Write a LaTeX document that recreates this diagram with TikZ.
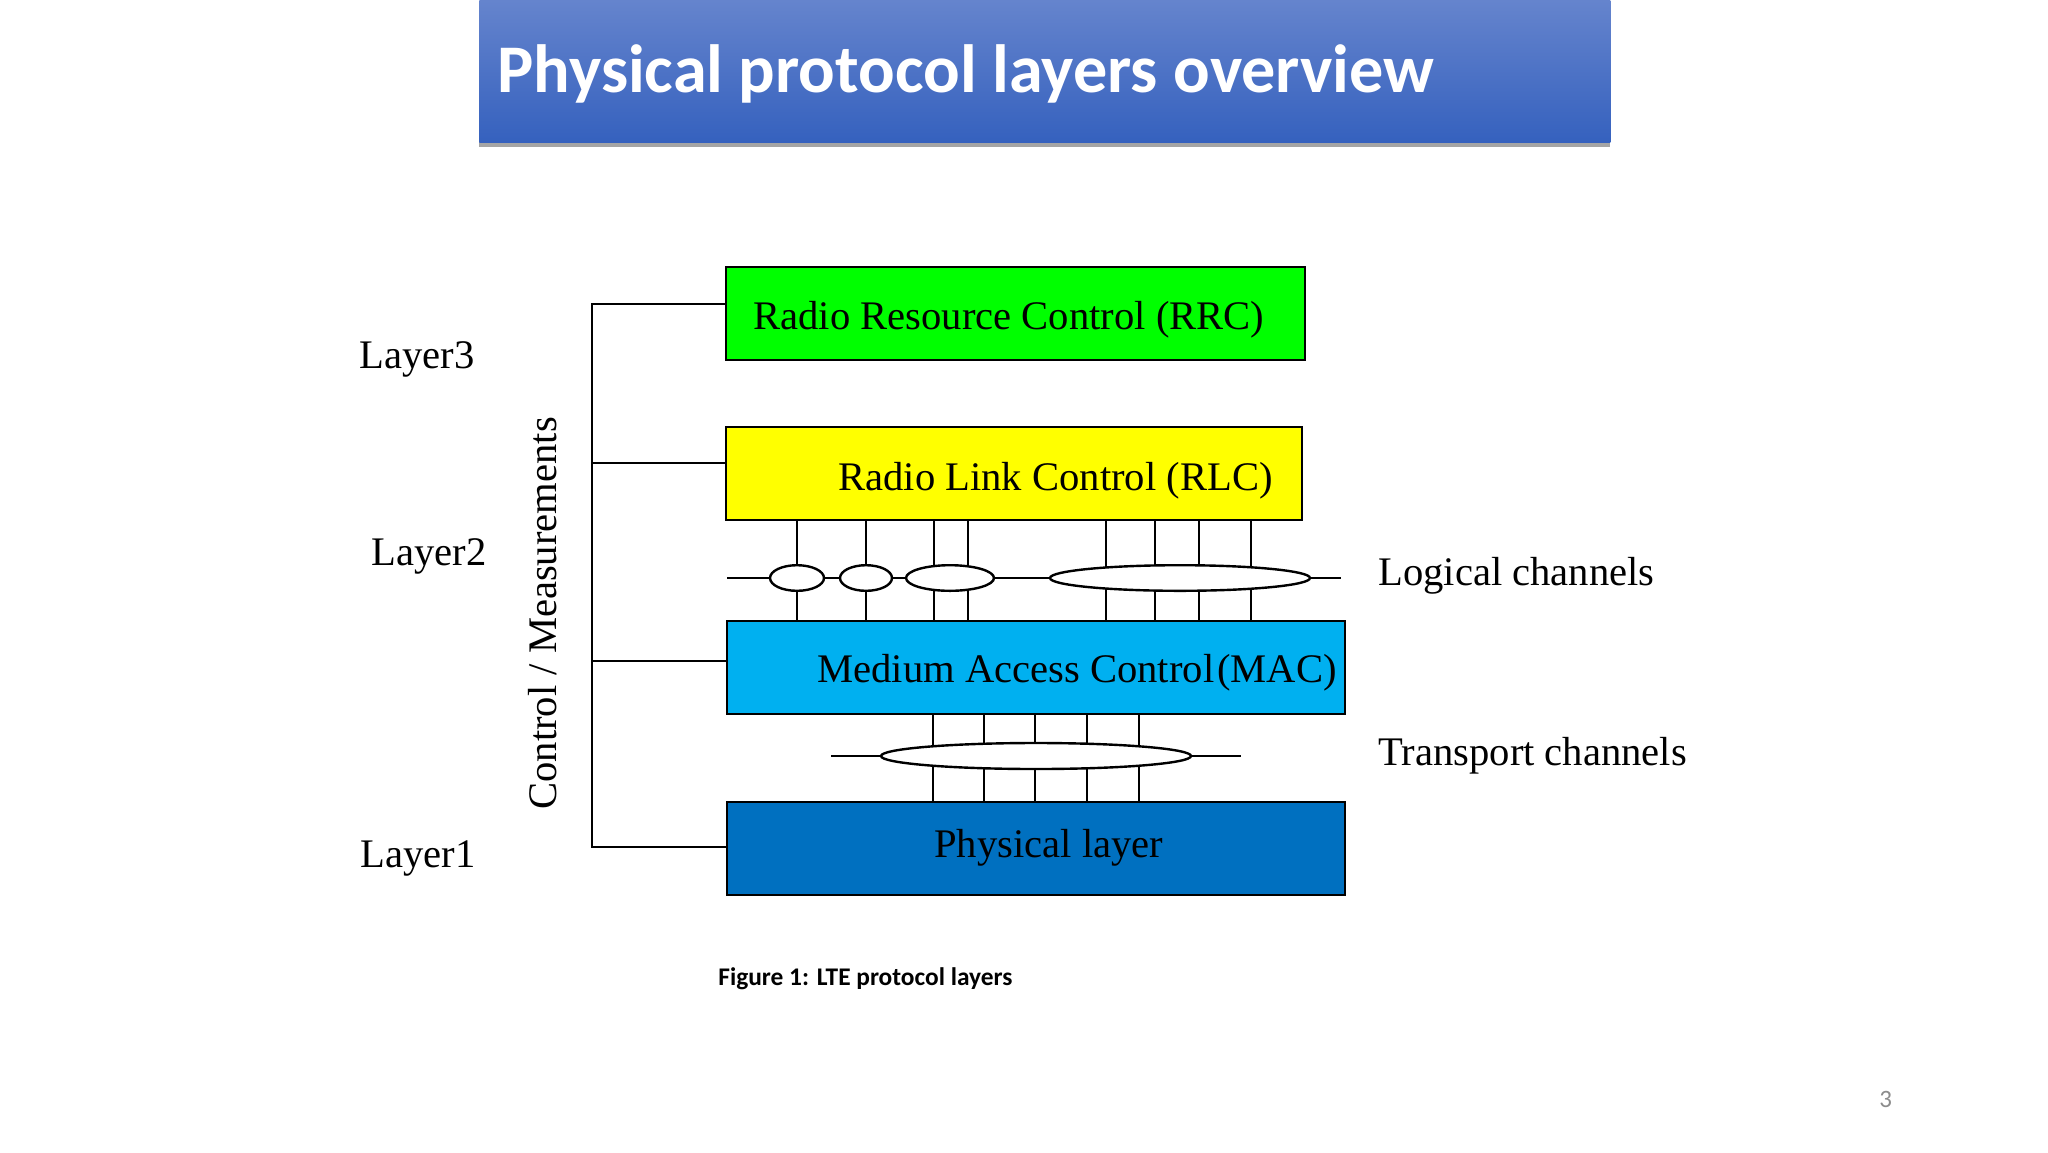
\documentclass[tikz,border=0pt]{standalone}
\usepackage{fontspec}
\setmainfont{Liberation Serif}
\newfontfamily\calibri{Carlito}
\usetikzlibrary{shadows,shapes.geometric}
\definecolor{rrcgreen}{RGB}{0,255,0}
\definecolor{rlcyellow}{RGB}{255,255,0}
\definecolor{macblue}{RGB}{0,176,240}
\definecolor{phyblue}{RGB}{0,112,192}
\definecolor{bantop}{RGB}{101,132,205}
\definecolor{banbot}{RGB}{53,97,190}
\definecolor{pgnum}{RGB}{140,140,140}
\begin{document}
\begin{tikzpicture}[x=0.5pt,y=-0.5pt,
  blk/.style={draw=black, line width=1.4pt, rectangle, inner sep=0pt, minimum height=46.5pt},
  lbl/.style={font=\fontsize{20.3}{24}\selectfont, inner sep=0pt, anchor=base west, text=black},
  chan/.style={draw=black, line width=1.2pt, fill=white, ellipse, inner sep=0pt, minimum height=12.8pt},
  wire/.style={draw=black, line width=1.2pt}]
\useasboundingbox (0,0) rectangle (2048,1152);
\fill[white] (0,0) rectangle (2048,1152);

% title banner
\node[name=banner, anchor=north west, inner sep=0pt, minimum width=565.5pt, minimum height=71pt,
  top color=bantop, bottom color=banbot, draw=none,
  drop shadow={shadow xshift=0pt, shadow yshift=-2.5pt, opacity=0.5, fill=black!70}] at (479,0) {};
\node[name=title, anchor=base west, inner sep=0pt, text=white, font=\calibri\bfseries\fontsize{34.1}{40}\selectfont] at (497,92) {Physical protocol layers overview};

% boxes
\node[blk, name=rrc, fill=rrcgreen, minimum width=289.5pt] at (1015.5,313.5) {};
\node[blk, name=rlc, fill=rlcyellow, minimum width=288pt] at (1014,473.5) {};
\node[blk, name=mac, fill=macblue, minimum width=309pt] at (1036,667.5) {};
\node[blk, name=phy, fill=phyblue, minimum width=309pt] at (1036,848.5) {};

\node[lbl, name=rrctext] at (753,329) {Radio Resource Control (RRC)};
\node[lbl, name=rlctext] at (838,490) {Radio Link Control (RLC)};
\node[lbl, name=mactext] at (817,682) {Medium Access Control\hspace{1.5pt}(MAC)};
\node[lbl, name=phytext] at (934,857) {Physical layer};

% control bracket
\coordinate (b3) at (592,304);
\coordinate (b2) at (592,463);
\coordinate (bm) at (592,661);
\coordinate (b1) at (592,847);
\draw[wire] (rrc.west |- b3) -- (b3) -- (b1) -- (b1 -| phy.west);
\draw[wire] (b2) -- (b2 -| rlc.west);
\draw[wire] (bm) -- (bm -| mac.west);

% logical channels
\foreach \xx [count=\i] in {797,866,934,968,1106,1155,1199,1251} {
  \coordinate (lv\i) at (\xx,0);
  \draw[wire] (lv\i |- rlc.south) -- (lv\i |- mac.north);
}
\coordinate (lcl) at (727,578);
\coordinate (lcr) at (1341,578);
\draw[wire] (lcl) -- (lcr);
\node[chan, name=e1, minimum width=27pt] at (797,578) {};
\node[chan, name=e2, minimum width=26pt] at (866,578) {};
\node[chan, name=e3, minimum width=44pt] at (950,578) {};
\node[chan, name=e4, minimum width=130pt] at (1180,578) {};

% transport channels
\foreach \xx [count=\i] in {933,984,1035,1087,1139} {
  \coordinate (tv\i) at (\xx,0);
  \draw[wire] (tv\i |- mac.south) -- (tv\i |- phy.north);
}
\coordinate (tcl) at (831,756);
\coordinate (tcr) at (1241,756);
\draw[wire] (tcl) -- (tcr);
\node[chan, name=te, minimum width=155pt, minimum height=13pt] at (1036,756) {};

% side labels
\node[lbl, name=l3] at (359,368) {Layer3};
\node[lbl, name=l2] at (371,565) {Layer2};
\node[lbl, name=l1] at (360,867) {Layer1};
\node[lbl, name=ctrl, rotate=90] at (556,810) {Control / Measurements};
\node[lbl, name=logic] at (1378,585) {Logical channels};
\node[lbl, name=transp] at (1378,765) {Transport channels};

% caption and page number
\node[name=caption, anchor=base west, inner sep=0pt, font=\calibri\bfseries\fontsize{12.7}{15}\selectfont] at (718,985) {Figure 1: LTE protocol layers};
\node[name=pagenum, anchor=base west, inner sep=0pt, text=pgnum, font=\calibri\fontsize{12.5}{15}\selectfont] at (1879,1107) {3};
\end{tikzpicture}
\end{document}
